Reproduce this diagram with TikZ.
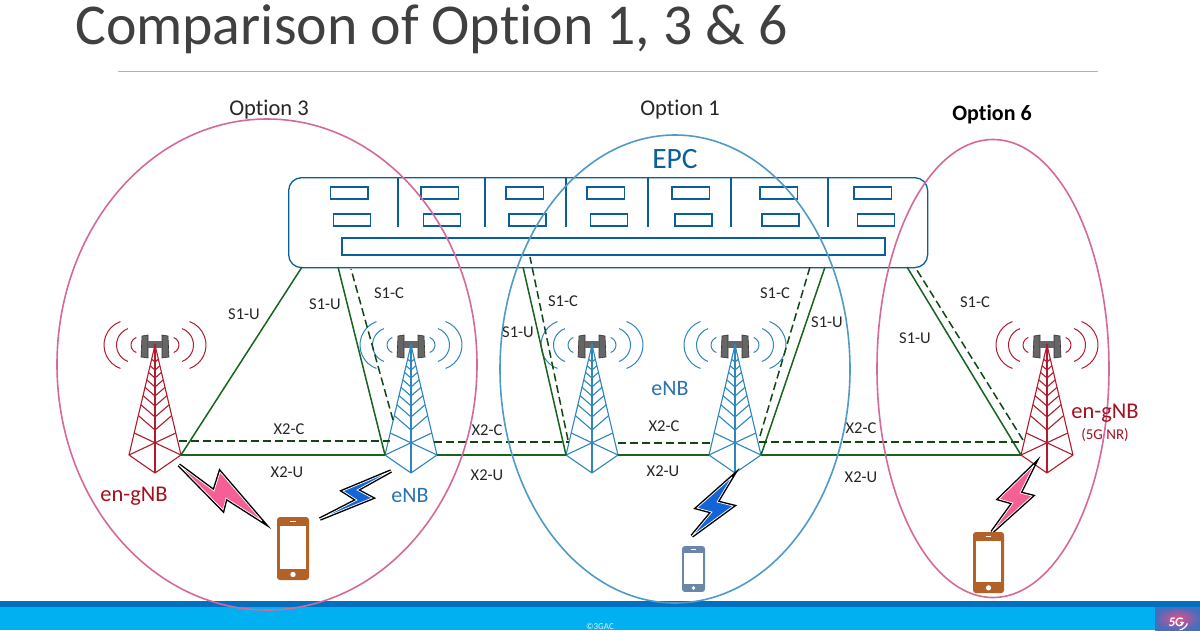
\documentclass[tikz,border=0pt]{standalone}
\usepackage{fontspec}
\setmainfont{Carlito}[Ligatures=NoCommon]
\usetikzlibrary{calc,positioning}
\definecolor{optionpink}{RGB}{214,105,155}
\definecolor{optionblue}{RGB}{80,155,198}
\definecolor{epcblue}{RGB}{10,94,155}
\definecolor{towerblue}{RGB}{46,134,190}
\definecolor{towerred}{RGB}{176,28,46}
\definecolor{textred}{RGB}{165,16,32}
\definecolor{textblue}{RGB}{40,115,180}
\definecolor{linkgreen}{RGB}{24,100,30}
\definecolor{boltpink}{RGB}{245,95,150}
\definecolor{boltblue}{RGB}{20,100,215}
\definecolor{phonebrown}{RGB}{178,98,38}
\definecolor{phonegray}{RGB}{106,134,168}
\definecolor{footdark}{RGB}{0,112,192}
\definecolor{footcyan}{RGB}{0,176,240}
\definecolor{logopink}{RGB}{235,75,135}
\definecolor{logoblue}{RGB}{70,110,190}
\tikzset{
    % Coverage ovals
    optionoval/.style={draw=optionpink, line width=1.6pt},
    blueoval/.style={draw=optionblue, line width=1.6pt},
    % Core network
    epcbox/.style={draw=epcblue, line width=1.3pt},
    % Links between towers and core
    ulink/.style={draw=linkgreen, line width=1.5pt},
    clink/.style={draw=linkgreen!70!black, line width=1.5pt, dash pattern=on 8pt off 4pt},
    % Labels
    linklabel/.style={font=\fontsize{16.5}{16.5}\selectfont, text=black!85},
    optionlabel/.style={font=\fontsize{22.5}{22.5}\selectfont, text=black!85},
    redlabel/.style={font=\fontsize{22.5}{22.5}\selectfont, text=textred},
    bluelabel/.style={font=\fontsize{22}{22}\selectfont, text=textblue},
    bolt/.style={preaction={draw=black, line width=3.6pt, miter limit=8}, draw=white, line width=0.7pt, miter limit=5},
    % Tower with antenna, origin at the apex
    pics/tower/.style={code={
        \coordinate (-l) at (-26,110);
        \coordinate (-r) at (26,110);
        \coordinate (-b) at (0,128);
        \foreach \s in {-1,1}{
            \foreach \R/\C in {25/26,17.5/21,8/16}{
                \draw[draw=#1, line width=1pt] (\s*\C,0)++(90-\s*20:\R)
                    arc[start angle=90-\s*20, end angle=90-\s*160, radius=\R];
            }
            \draw[draw=#1, line width=1.1pt] (\s*26,110) -- (0,0);
            \draw[draw=#1, line width=1.1pt] (\s*26,110) -- (0,128);
            \draw[draw=#1, line width=1.1pt] (\s*26,110) -- (-\s*20.8,88);
            \foreach \c in {17,25,33,42,51,61,72,85}{
                \draw[draw=#1, line width=1.1pt] (\s*\c*0.196,\c*0.83) -- (0,\c);
            }
            \fill[black!60, draw=black!80, line width=0.6pt] (\s*7,-10) -- (\s*13,-9) -- (\s*14,12) -- (\s*7,13) -- cycle;
        }
        \fill[black!60] (-7,-4) rectangle (7,3);
        \draw[draw=#1, line width=1.1pt] (0,0) -- (0,128);
        \fill[#1] (0,0) circle (1.6);
    }},
    % Smartphone, origin at the top left corner
    pics/phone/.style={code={
        \fill[#1, rounded corners=3pt] (0,0) rectangle (32,63);
        \fill[white] (3,9) rectangle (29,52);
        \fill[white] (13,3.6) rectangle (19,5);
        \fill[white] (16,57.5) circle (2.7);
    }},
}
\begin{document}
\begin{tikzpicture}[x=1pt,y=-1pt]
    \useasboundingbox (0,0) rectangle (1200,630);
    \fill[white] (0,0) rectangle (1200,630);
    % Title
    \node[font=\fontsize{57.8}{58}\selectfont, text=black!75, anchor=base west, inner sep=0pt] (title) at (75,44.5) {Comparison of Option 1, 3 \& 6};
    \draw[black!30, line width=0.8pt] (118,71) -- (1098,71);
    % Footer
    \fill[footdark] (0,601) rectangle (1200,607);
    \fill[footcyan] (0,607) rectangle (1200,630);
    \shade[inner color=logopink, outer color=logoblue] (1155,607) rectangle (1200,630);
    \node[font=\fontsize{13}{13}\selectfont\bfseries\itshape, text=white, inner sep=0pt] (logo) at (1176,622) {5G};
    \foreach \r in {6,10}{\draw[white, line width=1.2pt] (1178,620)++(20:\r) arc[start angle=20, end angle=80, radius=\r];}
    \node[font=\fontsize{9}{9}\selectfont, text=white!85!footcyan, anchor=base, inner sep=0pt] (copyright) at (600,629.5) {©3GAC};
    % Links first, towers on top
    \pic (tone) at (155,345) {tower=towerred};
    \pic (ttwo) at (411,345) {tower=towerblue};
    \pic (tthree) at (592,345) {tower=towerblue};
    \pic (tfour) at (735,345) {tower=towerblue};
    \pic (tfive) at (1047,345) {tower=towerred};
    % Core
    \node[epcbox, rounded corners=13pt, minimum width=639pt, minimum height=90pt, anchor=north west, inner sep=0pt] (epc) at (288,177) {};
    \node[font=\fontsize{29.5}{29.5}\selectfont, text=epcblue] (epclabel) at (675,159) {EPC};
    \foreach \x in {398,485,566,648,731,828}{\draw[epcbox] (\x,177) -- (\x,227);}
    \foreach \x/\y in {330.5/333.5,421/423.5,506/509,587/590.6,672/675,760/762,854/857.5}{
        \draw[epcbox] (\x,187) rectangle +(37.5,12);
        \draw[epcbox] (\y,214) rectangle +(37,12);
    }
    \draw[epcbox] (342,238) rectangle (885,255);
    % Upper ends of the links
    \coordinate (ua) at (302,267);
    \coordinate (ub) at (338,267);
    \coordinate (uc) at (523,267);
    \coordinate (ud) at (825,267);
    \coordinate (ue) at (907,267);
    \coordinate (ca) at (351,269);
    \coordinate (cb) at (530,257);
    \coordinate (cc) at (810,267);
    \coordinate (cd) at (915,267);
    % Lower ends of the dashed links
    \coordinate (ka) at (393,420);
    \coordinate (kb) at (568,440);
    \coordinate (kc) at (760,436);
    \coordinate (kd) at (1023,440);
    \draw[ulink] (tone-r) -- (ua);
    \draw[ulink] (ttwo-l) -- (ub);
    \draw[ulink] (tthree-l) -- (uc);
    \draw[ulink] (tfour-r) -- (ud);
    \draw[ulink] (tfive-l) -- (ue);
    \draw[clink] (ka) -- (ca);
    \draw[clink] (kb) -- (cb);
    \draw[clink] (kc) -- (cc);
    \draw[clink] (kd) -- (cd);
    \draw[ulink] (tone-r) -- (ttwo-l);
    \draw[ulink] (ttwo-r) -- (tthree-l);
    \draw[ulink] (tthree-r) -- (tfour-l);
    \draw[ulink] (tfour-r) -- (tfive-l);
    \draw[clink] ($(tone-r)+(-2,-14)$) -- ($(ttwo-l)+(5,-14)$);
    \draw[clink] ($(ttwo-r)+(-3,-13)$) -- ($(tthree-l)+(3,-13)$);
    \draw[clink] ($(tthree-r)+(0,-12)$) -- ($(tfour-l)+(3,-12)$);
    \draw[clink] ($(tfour-r)+(-2,-13)$) -- ($(tfive-l)+(1,-13)$);
    % Ovals
    \draw[optionoval] (267,364.5) ellipse [x radius=210, y radius=245.5];
    \draw[blueoval] (675,369) ellipse [x radius=175, y radius=234];
    \draw[optionoval] (993,368.5) ellipse [x radius=116, y radius=229];
    % Bolts
    \draw[bolt, fill=boltpink] (179,465) -- (214,491) -- (220,472) -- (262,521) -- (226,498) -- (223,510) -- cycle;
    \draw[bolt, fill=boltblue] (391,471) -- (343,491) -- (357,500) -- (320,519) -- (372,498) -- (357,490) -- cycle;
    \draw[bolt, fill=boltblue] (732,477) -- (697,508) -- (712,512) -- (692,536) -- (733,506) -- (717,502) -- cycle;
    \draw[bolt, fill=boltpink] (1034,465) -- (999,499) -- (1013,503) -- (992,532) -- (1032,496) -- (1020,493) -- cycle;
    % Phones
    \pic at (277,517) {phone=phonebrown};
    \pic[xscale=0.72, yscale=0.73] at (682,546) {phone=phonegray};
    \pic[scale=0.97] at (973,532) {phone=phonebrown};
    % Labels
    \node[optionlabel] (optthree) at (269,110) {Option 3};
    \node[optionlabel] (optone) at (680,110) {Option 1};
    \node[optionlabel, font=\fontsize{22}{22}\selectfont\bfseries, text=black] (optsix) at (992,115) {Option 6};
    \foreach \x/\y/\t in {244/314/S1-U,325/304/S1-U,389/293/S1-C,563/301/S1-C,518/332/S1-U,775/293/S1-C,827/322/S1-U,975/302/S1-C,915/338/S1-U,
        289/429/X2-C,487/430/X2-C,664/426/X2-C,861/428/X2-C,287/472/X2-U,487/475/X2-U,663/471/X2-U,861/477/X2-U}{
        \node[linklabel] at (\x,\y) {\t};
    }
    \node[redlabel] (engnba) at (134,496) {en-gNB};
    \node[bluelabel] (enba) at (410,496) {eNB};
    \node[bluelabel] (enbb) at (670,389) {eNB};
    \node[redlabel] (engnbb) at (1105,413) {en-gNB};
    \node[font=\fontsize{15}{15}\selectfont, text=textred] (fivegnr) at (1105,435) {(5G NR)};
\end{tikzpicture}
\end{document}
